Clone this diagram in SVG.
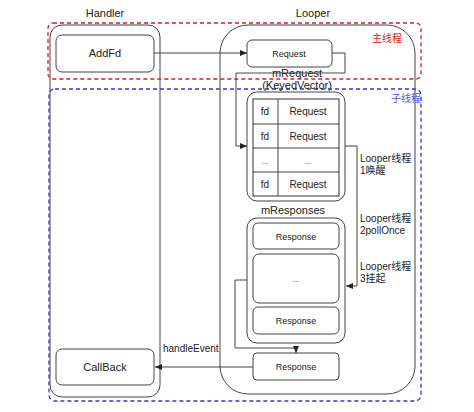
<svg xmlns="http://www.w3.org/2000/svg" width="474" height="412" viewBox="0 0 474 412">
<defs>
<marker id="arr" markerWidth="8" markerHeight="8" refX="7" refY="4" orient="auto" markerUnits="userSpaceOnUse">
<path d="M0,1 L7,4 L0,7 Z" fill="#222"/>
</marker>
<style>
.box{fill:#fff;stroke:#444;stroke-width:1}
.cont{fill:none;stroke:#444;stroke-width:1}
.t{font-family:"Liberation Sans","Noto Sans CJK SC",sans-serif;fill:#222;text-anchor:middle}
.lbl{font-family:"Liberation Sans","Noto Sans CJK SC",sans-serif;fill:#222;font-size:10px}
.ln{fill:none;stroke:#444;stroke-width:1}
</style>
</defs>
<rect width="474" height="412" fill="#fff"/>
<g id="handler">
<rect class="cont" x="50" y="25" width="110" height="372" rx="12"/>
<text class="t" x="105" y="17" font-size="11">Handler</text>
</g>
<g id="looper">
<rect class="cont" x="220" y="25" width="195" height="369" rx="28"/>
<text class="t" x="313" y="17" font-size="11">Looper</text>
</g>
<g id="main-thread">
<rect x="48" y="23" width="373" height="56" rx="5" fill="none" stroke="#d0202a" stroke-width="1.3" stroke-dasharray="4,3"/>
<text x="372" y="42" font-family="Liberation Sans,Noto Sans CJK SC,sans-serif" font-size="10" fill="#d0202a">主线程</text>
</g>
<g id="sub-thread">
<rect x="49" y="89" width="372" height="312" rx="6" fill="none" stroke="#3333dd" stroke-width="1.3" stroke-dasharray="4,3"/>
<text x="391" y="102" font-family="Liberation Sans,Noto Sans CJK SC,sans-serif" font-size="10" fill="#5555ee">子线程</text>
</g>
<g id="addfd">
<rect class="box" x="56" y="35" width="98" height="37" rx="6"/>
<text class="t" x="105" y="57" font-size="11">AddFd</text>
</g>
<g id="callback">
<rect class="box" x="56" y="349" width="98" height="36" rx="6"/>
<text class="t" x="105" y="371" font-size="11">CallBack</text>
</g>
<g id="request">
<rect class="box" x="247" y="40" width="85" height="27" rx="5"/>
<text class="t" x="289" y="57" font-size="9">Request</text>
</g>
<g id="mrequest">
<rect class="cont" x="247" y="92" width="98" height="109" rx="10"/>
<text class="t" x="297" y="77" font-size="11">mRequest</text>
<text class="t" x="297" y="89" font-size="11">(KeyedVector)</text>
<rect x="253" y="99" width="86" height="97" fill="#fff" stroke="#333" stroke-width="1"/>
<line class="ln" x1="253" y1="124" x2="339" y2="124"/>
<line class="ln" x1="253" y1="148" x2="339" y2="148"/>
<line class="ln" x1="253" y1="172" x2="339" y2="172"/>
<line class="ln" x1="278" y1="99" x2="278" y2="196"/>
<text class="t" x="265" y="115" font-size="10">fd</text>
<text class="t" x="308" y="115" font-size="10">Request</text>
<text class="t" x="265" y="140" font-size="10">fd</text>
<text class="t" x="308" y="140" font-size="10">Request</text>
<text class="t" x="265" y="164" font-size="8" fill="#999">...</text>
<text class="t" x="308" y="164" font-size="8" fill="#999">...</text>
<text class="t" x="265" y="188" font-size="10">fd</text>
<text class="t" x="308" y="188" font-size="10">Request</text>
</g>
<g id="mresponses">
<rect class="cont" x="247" y="218" width="98" height="125" rx="10"/>
<text class="t" x="293" y="214" font-size="11">mResponses</text>
<rect class="box" x="253" y="223" width="86" height="26" rx="5"/>
<text class="t" x="296" y="240" font-size="9">Response</text>
<rect class="box" x="253" y="254" width="86" height="49" rx="6"/>
<text class="t" x="296" y="282" font-size="8" fill="#777">...</text>
<rect class="box" x="253" y="307" width="86" height="27" rx="5"/>
<text class="t" x="296" y="324" font-size="9">Response</text>
</g>
<g id="response">
<rect class="box" x="253" y="353" width="86" height="27" rx="4"/>
<text class="t" x="296" y="370" font-size="9">Response</text>
</g>
<g id="connectors">
<line class="ln" x1="154" y1="53" x2="247" y2="53" marker-end="url(#arr)"/>
<polyline class="ln" points="332,53 345,53 345,73 236,73 236,146 247,146" marker-end="url(#arr)"/>
<polyline class="ln" points="345,146 357,146 357,286 346,286" marker-end="url(#arr)"/>
<polyline class="ln" points="247,280 235,280 235,348 296,348 296,353" marker-end="url(#arr)"/>
<line class="ln" x1="253" y1="367" x2="155" y2="367" marker-end="url(#arr)"/>
<text class="lbl" x="163" y="352">handleEvent</text>
<text class="lbl" x="360" y="162">Looper线程</text>
<text class="lbl" x="360" y="174">1唤醒</text>
<text class="lbl" x="360" y="222">Looper线程</text>
<text class="lbl" x="360" y="234">2pollOnce</text>
<text class="lbl" x="360" y="270">Looper线程</text>
<text class="lbl" x="360" y="282">3挂起</text>
</g>
</svg>
